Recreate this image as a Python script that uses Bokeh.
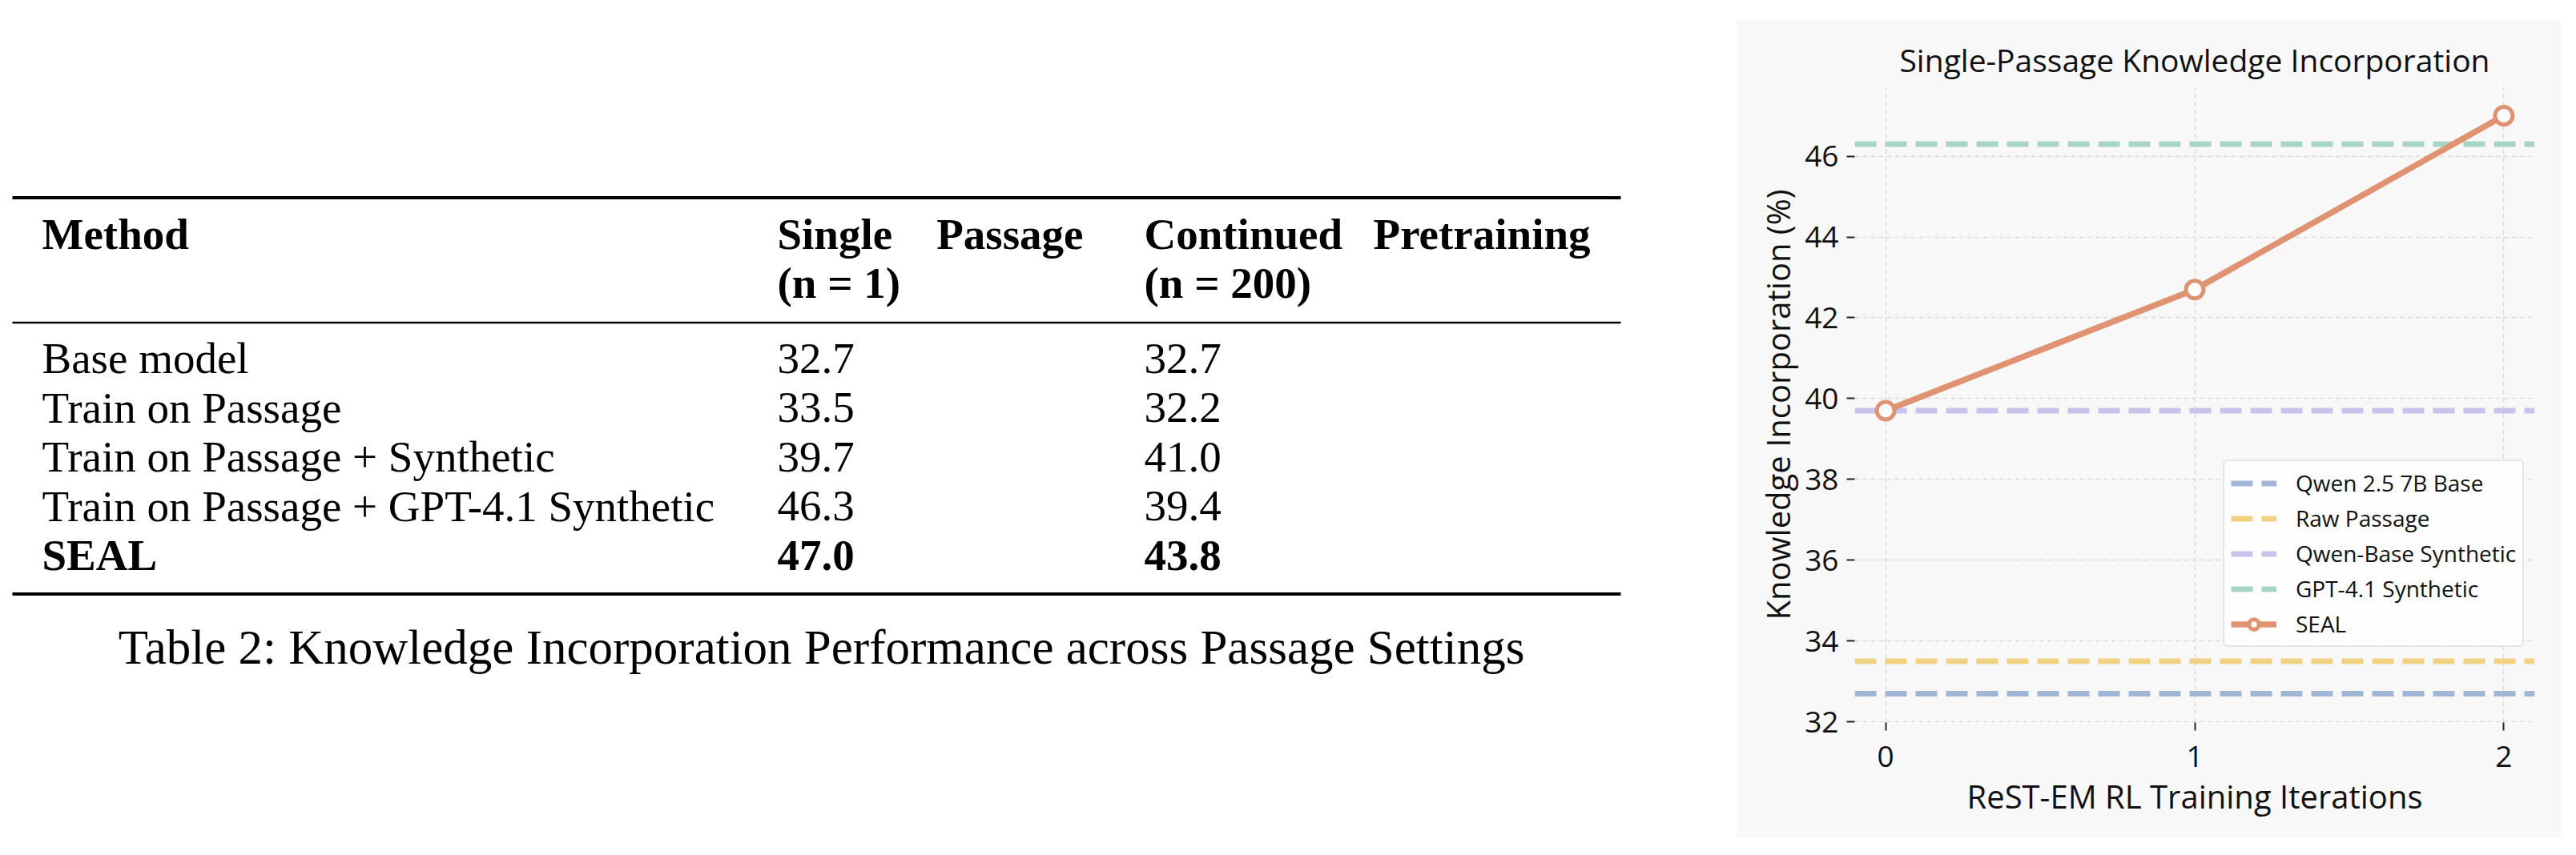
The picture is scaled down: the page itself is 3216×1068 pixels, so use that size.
from bokeh.plotting import figure
from bokeh.models import Range1d, FixedTicker, Legend, LegendItem, Spacer
from bokeh.layouts import row, column
from bokeh.embed import file_html
from bokeh.resources import INLINE
from bokeh.core.properties import value

# ---------------- data ----------------
table_methods = ["Base model", "Train on Passage", "Train on Passage + Synthetic",
                 "Train on Passage + GPT-4.1 Synthetic", "SEAL"]
single_passage = [32.7, 33.5, 39.7, 46.3, 47.0]
continued_pretraining = [32.7, 32.2, 41.0, 39.4, 43.8]
header_method = "Method"
header_single = ["Single", "Passage", "(n = 1)"]
header_cpt = ["Continued", "Pretraining", "(n = 200)"]
caption = "Table 2: Knowledge Incorporation Performance across Passage Settings"

iterations = [0, 1, 2]
seal_scores = [39.7, 42.7, 47.0]
baseline_names = ["Qwen 2.5 7B Base", "Raw Passage", "Qwen-Base Synthetic", "GPT-4.1 Synthetic"]
baseline_values = [32.7, 33.5, 39.7, 46.3]
baseline_colors = ["#a0b6d6", "#f0d282", "#c8c3eb", "#a8d6c4"]
seal_color = "#df9372"
y_ticks = [32, 34, 36, 38, 40, 42, 44, 46]
x_ticks = [0, 1, 2]

# ---------------- table (drawn in page pixel coordinates) ----------------
OFF = 8
TW, TH = 2168, 1052
t = figure(width=TW, height=TH, x_range=Range1d(OFF, OFF + TW), y_range=Range1d(OFF + TH, OFF),
           output_backend="svg", toolbar_location=None, min_border=0,
           x_axis_location=None, y_axis_location=None)
t.grid.visible = False
t.outline_line_color = None
t.background_fill_color = "white"
t.border_fill_color = "white"

serif = value("Liberation Serif")
FS = "55px"
TXT_DY = -18
rule_x0, rule_x1 = 23, 2031
rule_y = [246.5, 402.5, 741.5]
rule_w = [4, 2.5, 4]
t.segment(x0=[rule_x0] * 3, x1=[rule_x1] * 3, y0=rule_y, y1=rule_y, line_width=rule_w, line_color="black")

col_x = [60, 978, 1436]
col_right = [1360, 1993]
hdr_y = [310 + TXT_DY, 371 + TXT_DY]
common = dict(text_font=serif, text_font_size=FS, text_baseline="alphabetic", text_color="black")
t.text(x=[col_x[0], col_x[1], col_x[1], col_x[2], col_x[2]],
       y=[hdr_y[0], hdr_y[0], hdr_y[1], hdr_y[0], hdr_y[1]],
       text=[header_method, header_single[0], header_single[2], header_cpt[0], header_cpt[2]],
       text_font_style="bold", text_align="left", **common)
t.text(x=col_right, y=[hdr_y[0], hdr_y[0]], text=[header_single[1], header_cpt[1]],
       text_font_style="bold", text_align="right", **common)

row_y0, row_pitch = 465 + TXT_DY, 61.5
n = len(table_methods)
ys = [row_y0 + i * row_pitch for i in range(n)]
for i in range(n):
    style = "bold" if table_methods[i] == "SEAL" else "normal"
    t.text(x=col_x, y=[ys[i]] * 3,
           text=[table_methods[i], f"{single_passage[i]:.1f}", f"{continued_pretraining[i]:.1f}"],
           text_font_style=style, text_align="left", **common)

t.text(x=[1033], y=[828 - 20], text=[caption], text_font=serif, text_font_size="61px",
       text_baseline="alphabetic", text_align="center", text_color="black")

# ---------------- chart ----------------
sans = "Open Sans"
xpad = 0.05 * (max(iterations) - min(iterations))
all_y = baseline_values + seal_scores
ypad = 0.05 * (max(all_y) - min(all_y))
x_lo, x_hi = min(iterations) - xpad, max(iterations) + xpad
p = figure(width=1029, height=1021,
           x_range=Range1d(x_lo, x_hi),
           y_range=Range1d(min(all_y) - ypad, max(all_y) + ypad),
           min_border_left=147, min_border_right=33, min_border_top=83, min_border_bottom=144,
           output_backend="svg", toolbar_location=None,
           title="Single-Passage Knowledge Incorporation")
p.background_fill_color = "#f8f8f8"
p.border_fill_color = "#f8f8f8"
p.outline_line_color = None

p.title.align = "center"
p.title.text_font = sans
p.title.text_font_size = "39px"
p.title.text_font_style = "normal"
p.title.text_color = "#111111"
p.title.standoff = 16

p.xaxis.ticker = FixedTicker(ticks=x_ticks)
p.yaxis.ticker = FixedTicker(ticks=y_ticks)
for ax in (p.xaxis, p.yaxis):
    ax.axis_line_color = None
    ax.major_tick_line_color = "#222222"
    ax.major_tick_line_width = 2
    ax.major_tick_out = 10
    ax.major_tick_in = 0
    ax.minor_tick_line_color = None
    ax.major_label_text_font = sans
    ax.major_label_text_font_size = "37px"
    ax.major_label_text_color = "#111111"
    ax.axis_label_text_font = sans
    ax.axis_label_text_font_size = "40px"
    ax.axis_label_text_font_style = "normal"
    ax.axis_label_text_color = "#111111"
p.xaxis.axis_label = "ReST-EM RL Training Iterations"
p.yaxis.axis_label = "Knowledge Incorporation (%)"
p.xaxis.major_label_standoff = 19
p.yaxis.major_label_standoff = 10
p.xaxis.axis_label_standoff = 6
p.yaxis.axis_label_standoff = 3

p.grid.grid_line_color = "#dcdcdc"
p.grid.grid_line_dash = "6 4"
p.grid.grid_line_width = 1.5

items = []
for name, val, col in zip(baseline_names, baseline_values, baseline_colors):
    r = p.line(x=[x_lo, x_hi], y=[val, val], line_color=col, line_width=7, line_dash="27 11")
    items.append(LegendItem(label=name, renderers=[r]))

rl = p.line(x=iterations, y=seal_scores, line_color=seal_color, line_width=7.5)
rs = p.scatter(x=iterations, y=seal_scores, size=22, fill_color="white", line_color=seal_color, line_width=5)
items.append(LegendItem(label="SEAL", renderers=[rl, rs]))

legend = Legend(items=items, location=(460, 94), orientation="vertical")
legend.label_text_font = sans
legend.label_text_font_size = "28px"
legend.label_text_color = "#111111"
legend.glyph_width = 57
legend.glyph_height = 31
legend.label_height = 31
legend.label_standoff = 24
legend.spacing = 6
legend.padding = 8
legend.margin = 0
legend.background_fill_color = "white"
legend.background_fill_alpha = 0.85
legend.border_line_color = "#cccccc"
legend.border_line_width = 2
if "border_radius" in Legend.properties():
    legend.border_radius = 6
p.add_layout(legend)

body = row(t, column(Spacer(height=17), p, spacing=0), spacing=0)
layout = column(Spacer(height=8), body, spacing=0)
open("out.html", "w").write(file_html(layout, INLINE))
